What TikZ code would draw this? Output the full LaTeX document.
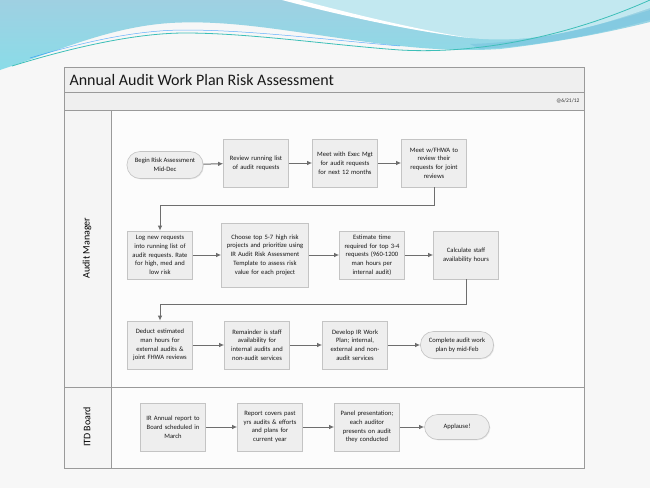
\documentclass[tikz,border=0pt]{standalone}
\usepackage{fontspec}
\setmainfont{Carlito}
\frenchspacing
\usetikzlibrary{arrows.meta,shadows}
\definecolor{framegray}{HTML}{9A9A9A}
\definecolor{bandgray}{HTML}{EFEFEF}
\definecolor{boxfill}{HTML}{EEEEEE}
\definecolor{boxline}{HTML}{C4C4C4}
\definecolor{linegray}{HTML}{6E6E6E}
\definecolor{waveblue}{HTML}{9FD0E2}
\definecolor{wavecyan}{HTML}{8ADCE8}
\definecolor{wavelight}{HTML}{C2E8F0}
\definecolor{wavedark}{HTML}{7CC6E0}
\definecolor{teal}{HTML}{3DBFB8}
\tikzset{
  procbox/.style={draw=boxline, fill=boxfill, line width=0.6pt, minimum width=65pt, minimum height=48pt,
    text width=61pt, align=center, inner sep=0pt, font=\fontsize{6.6}{8.8}\selectfont, text=black!90,
    drop shadow={opacity=0.18, shadow xshift=0.8pt, shadow yshift=-0.8pt}},
  termbox/.style={draw=boxline, fill=boxfill, line width=0.6pt, rounded corners=13pt, minimum height=27pt,
    align=center, inner sep=0pt, font=\fontsize{6.6}{8.8}\selectfont, text=black!90,
    drop shadow={opacity=0.18, shadow xshift=0.8pt, shadow yshift=-0.8pt}},
  arr/.style={draw=linegray, line width=1pt, -{Latex[length=5pt,width=4.5pt]}},
  lanelbl/.style={rotate=90, font=\fontsize{10}{12}\selectfont, text=black}
}
\begin{document}
\begin{tikzpicture}[x=1pt,y=-1pt]
\useasboundingbox (0,0) rectangle (650,488);
\fill[white!97!black] (0,0) rectangle (650,488);
% wave background
\shade[top color=waveblue, bottom color=wavecyan]
  (0,0) -- (650,0) -- (650,22)
  .. controls (610,32) and (560,42) .. (500,49)
  .. controls (440,53) and (380,44) .. (325,36)
  .. controls (270,28) and (220,20) .. (170,23)
  .. controls (110,27) and (60,50) .. (0,70) -- cycle;
\fill[wavelight] (290,0) .. controls (360,20) and (420,32) .. (470,38)
  .. controls (540,45) and (600,25) .. (650,8) -- (650,0) -- cycle;
\fill[white] (282,0) .. controls (350,18) and (420,32) .. (470,38)
  .. controls (420,30) and (360,16) .. (300,0) -- cycle;
\fill[wavedark, opacity=0.7] (470,44) .. controls (540,42) and (600,25) .. (650,10)
  -- (650,20) .. controls (600,34) and (540,46) .. (480,49) -- cycle;
\draw[teal, line width=0.8pt] (12,66) .. controls (80,45) and (140,33) .. (185,33)
  .. controls (250,33) and (330,45) .. (400,50) .. controls (470,54) and (560,40) .. (650,0);
\draw[blue!50!cyan, line width=0.5pt, opacity=0.6] (30,58) .. controls (90,40) and (140,30) .. (185,30)
  .. controls (250,30) and (330,40) .. (400,46);
% frame
\fill[white!99!black] (64,67) rectangle (584,468);
\fill[bandgray] (64,67) rectangle (584,110);
\fill[white!96!black] (64,110) rectangle (111,468);
\draw[framegray, line width=0.9pt] (64,92) -- (584,92);
\draw[framegray, line width=0.9pt] (64,110) -- (584,110);
\draw[framegray, line width=0.9pt] (111,110) -- (111,468);
\draw[framegray, line width=0.9pt] (64,387) -- (584,387);
\draw[framegray, line width=0.9pt] (64,67) rectangle (584,468);
\node[anchor=west, font=\fontsize{16}{19}\selectfont, text=black!90] (title) at (66,80) {Annual Audit Work Plan Risk Assessment};
\node[anchor=east, font=\fontsize{5.5}{6.5}\selectfont, text=black!80] (date) at (583,101) {@6/21/12};
\node[lanelbl] (lane1) at (87,248) {Audit Manager};
\node[lanelbl] (lane2) at (87,427) {ITD Board};
% row 1
\node[termbox, minimum width=76pt] (begin) at (165,165) {Begin Risk Assessment\\Mid-Dec};
\node[procbox] (review) at (256,163) {Review running list\\of audit requests};
\node[procbox] (exec) at (345,163) {Meet with Exec Mgt\\for audit requests\\for next 12 months};
\node[procbox] (fhwa) at (434,163) {Meet w/FHWA to\\review their\\requests for joint\\reviews};
% row 2
\node[procbox] (log) at (160,255) {Log new requests\\into running list of\\audit requests. Rate\\for high, med and\\low risk};
\node[procbox, minimum width=87pt, minimum height=64pt, text width=84pt] (choose) at (265,255) {Choose top 5-7 high risk\\projects and prioritize using\\IR Audit Risk Assessment\\Template to assess risk\\value for each project};
\node[procbox] (estimate) at (372,255) {Estimate time\\required for top 3-4\\requests (960-1200\\man hours per\\internal audit)};
\node[procbox] (calc) at (466,255) {Calculate staff\\availability hours};
% row 3
\node[procbox] (deduct) at (160,345) {Deduct estimated\\man hours for\\external audits \&\\joint FHWA reviews};
\node[procbox] (remain) at (257,345) {Remainder is staff\\availability for\\internal audits and\\non-audit services};
\node[procbox] (develop) at (355,345) {Develop IR Work\\Plan; internal,\\external and non-\\audit services};
\node[termbox, minimum width=73pt] (complete) at (457,345) {Complete audit work\\plan by mid-Feb};
% ITD board
\node[procbox] (annual) at (173,427) {IR Annual report to\\Board scheduled in\\March};
\node[procbox] (covers) at (270,427) {Report covers past\\yrs audits \& efforts\\and plans for\\current year};
\node[procbox] (panel) at (367,427) {Panel presentation;\\each auditor\\presents on audit\\they conducted};
\node[termbox, minimum width=65pt, minimum height=25pt] (applause) at (457,427) {Applause!};
% connectors
\draw[arr] (begin) -- (review);
\draw[arr] (review) -- (exec);
\draw[arr] (exec) -- (fhwa);
\draw[arr] (fhwa.south) -- ++(0,18) -| (log.north);
\draw[arr] (log) -- (choose);
\draw[arr] (choose) -- (estimate);
\draw[arr] (estimate) -- (calc);
\draw[arr] (calc.south) -- ++(0,25) -| (deduct.north);
\draw[arr] (deduct) -- (remain);
\draw[arr] (remain) -- (develop);
\draw[arr] (develop) -- (complete);
\draw[arr] (annual) -- (covers);
\draw[arr] (covers) -- (panel);
\draw[arr] (panel) -- (applause);
\end{tikzpicture}
\end{document}
